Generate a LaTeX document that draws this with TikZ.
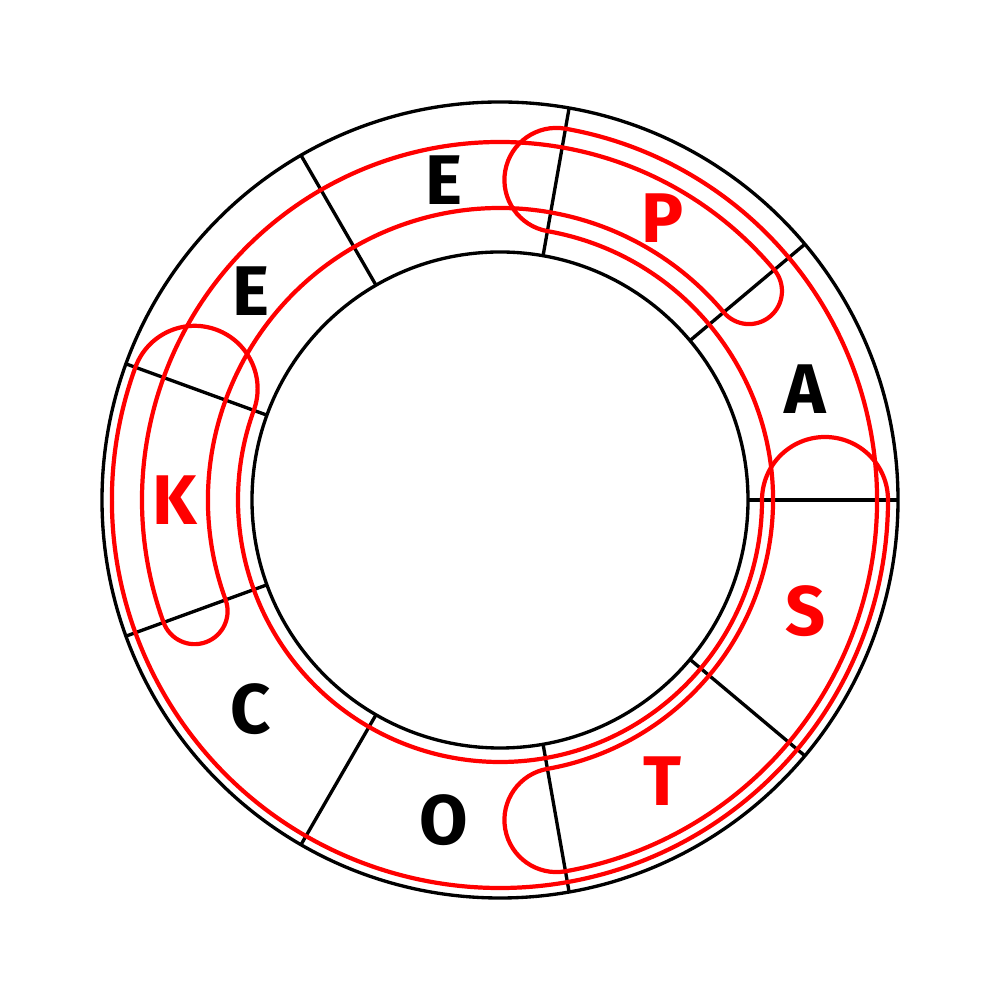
\documentclass[tikz,border=0pt]{standalone}
\usepackage{fontspec}
\setsansfont{Fira Sans}
\usetikzlibrary{positioning}

\tikzset{
  ring/.style={line width=0.95pt, black},
  band/.style={line width=1.2pt, red},
  letter/.style={font=\fontsize{20}{24}\selectfont\sffamily\bfseries, inner sep=0pt}
}

\begin{document}
\begin{tikzpicture}
\useasboundingbox (-5,-5) rectangle (5,5);
% ring and sectors
\draw[ring] (0,0) circle (3.98);
\draw[ring] (0,0) circle (2.48);
\foreach \a in {0,40,...,320}
  \draw[ring] (\a:2.48) -- (\a:3.98);
% red bands: start angle / end angle / half width
\foreach \s/\e/\w in {40/200/0.33, -80/80/0.52, 160/360/0.63}
  \draw[band] (\s:{3.25+\w}) arc[start angle=\s, end angle=\e, radius={3.25+\w}]
    arc[start angle=\e, end angle=\e+180, radius=\w]
    arc[start angle=\e, end angle=\s, radius={3.25-\w}]
    arc[start angle=\s+180, end angle=\s+360, radius=\w] -- cycle;
% letters
\foreach \a/\t/\c/\n in {20/A/black/la, 60/P/red/lp, 100/E/black/le, 140/E/black/lf,
    180/K/red/lk, 220/C/black/lc, 260/O/black/lo, 300/T/red/lt, 340/S/red/ls}
  \node[letter, text=\c] (\n) at (\a:3.25) {\t};
\end{tikzpicture}
\end{document}
